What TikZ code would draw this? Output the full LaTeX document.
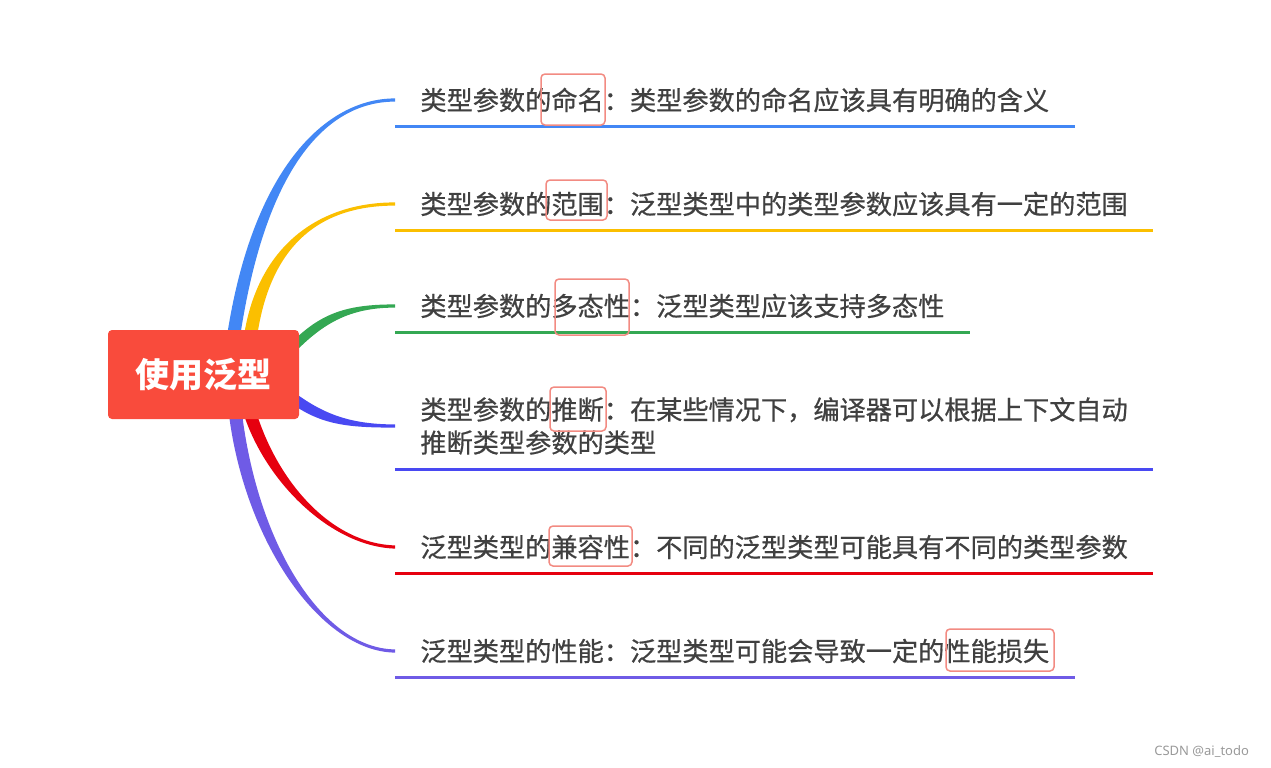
\documentclass[tikz,border=0pt]{standalone}
\usepackage{fontspec}
\setmainfont{Noto Sans CJK SC}
\newfontfamily\leaffont{Noto Sans CJK SC}[RawFeature={embolden=0.6}]
\newfontfamily\latinfont{Noto Sans}
\usepackage{tikz}
\usepackage{xcolor}
\usetikzlibrary{backgrounds}
\definecolor{rootred}{HTML}{F94B3C}
\definecolor{textgray}{HTML}{404040}
\definecolor{hlred}{HTML}{F28B82}
\definecolor{cblue}{HTML}{4287F5}
\definecolor{cyellow}{HTML}{FBBF00}
\definecolor{cgreen}{HTML}{34A853}
\definecolor{cviolet}{HTML}{4949F2}
\definecolor{cred}{HTML}{E6000F}
\definecolor{cpurple}{HTML}{6F5BE6}
% tapered branch: colour, start, c1, c2, end, start shift key, side
\newcommand\twig[7]{\fill[#1] ([#6=#7*3.3pt]#2) .. controls ([#6=#7*3.3pt]#3) and ([yshift=.8pt]#4) .. ([yshift=.8pt]#5)
  -- ([yshift=-.8pt]#5) .. controls ([yshift=-.8pt]#4) and ([#6=#7*(-3.3pt)]#3) .. ([#6=#7*(-3.3pt)]#2) -- cycle;}

\begin{document}
\begin{tikzpicture}[x=0.5pt,y=-0.5pt]%
  \tikzstyle{root}=[rectangle,rounded corners=2pt,fill=rootred,text=white,font=\fontsize{17}{20}\selectfont\bfseries,minimum width=95.5pt,minimum height=44.5pt]
  \tikzstyle{leaf}=[anchor=west,inner xsep=12.5pt,inner ysep=7pt,text=textgray,font=\leaffont\fontsize{13.1}{16.5}\selectfont,align=left]
  \tikzstyle{hl}=[draw=hlred,line width=0.75pt,rounded corners=2pt]
  \useasboundingbox (0,0) rectangle (1271,767);
  \node(0)[root] at (203.5,374.5) {使用泛型};
  \node(1)[leaf] at (395,100) {类型参数的命名：类型参数的命名应该具有明确的含义};
  \node(2)[leaf] at (395,204) {类型参数的范围：泛型类型中的类型参数应该具有一定的范围};
  \node(3)[leaf] at (395,306) {类型参数的多态性：泛型类型应该支持多态性};
  \node(4)[leaf] at (395,426) {类型参数的推断：在某些情况下，编译器可以根据上下文自动\\推断类型参数的类型};
  \node(5)[leaf] at (395,547) {泛型类型的兼容性：不同的泛型类型可能具有不同的类型参数};
  \node(6)[leaf] at (395,651) {泛型类型的性能：泛型类型可能会导致一定的性能损失};
  \begin{scope}[on background layer]
    \twig{cblue}{233,340}{258,170}{325,100}{1.west}{xshift}{-1}
    \twig{cyellow}{250,340}{262,250}{315,204}{2.west}{xshift}{-1}
    \twig{cgreen}{285,356}{318,320}{345,306}{3.west}{yshift}{1}
    \twig{cviolet}{285,392}{318,418}{345,426}{4.west}{yshift}{1}
    \twig{cred}{249,410}{270,480}{330,545}{5.west}{xshift}{1}
    \twig{cpurple}{235,410}{250,540}{320,650}{6.west}{xshift}{1}
  \end{scope}
  % underlines
  \draw[cblue,line width=1.5pt] (1.south west) -- (1.south east);
  \draw[cyellow,line width=1.5pt] (2.south west) -- (2.south east);
  \draw[cgreen,line width=1.5pt] (3.south west) -- (3.south east);
  \draw[cviolet,line width=1.5pt] (4.south west) -- (4.south east);
  \draw[cred,line width=1.5pt] (5.south west) -- (5.south east);
  \draw[cpurple,line width=1.5pt] (6.south west) -- (6.south east);
  % red marks
  \draw[hl] (541,74) rectangle (605,125);
  \draw[hl] (546,180) rectangle (607,220);
  \draw[hl] (555,279) rectangle (629,335);
  \draw[hl] (550,387) rectangle (606,431);
  \draw[hl] (549,526) rectangle (632,566);
  \draw[hl] (946,629) rectangle (1054,671);
  \node(w)[anchor=east,text=gray!80,font=\latinfont\fontsize{6.5}{7}\selectfont] at (1256,752) {CSDN @ai\_todo};
\end{tikzpicture}
\end{document}
